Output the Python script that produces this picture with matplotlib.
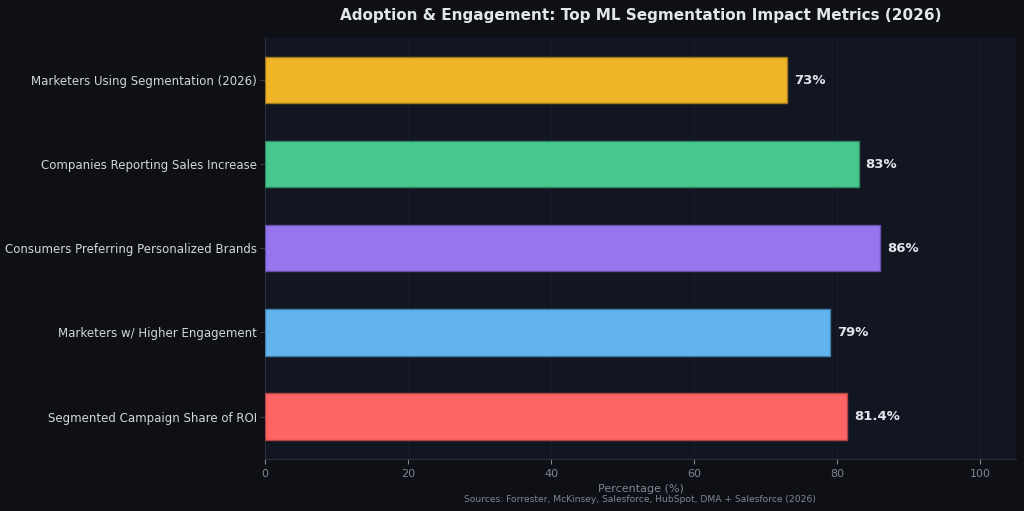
import matplotlib
matplotlib.use("Agg")
import matplotlib.pyplot as plt

categories = [
    "Marketers Using Segmentation (2026)",
    "Companies Reporting Sales Increase",
    "Consumers Preferring Personalized Brands",
    "Marketers w/ Higher Engagement",
    "Segmented Campaign Share of ROI",
]
values = [73, 83, 86, 79, 81.4]
value_labels = ["73%", "83%", "86%", "79%", "81.4%"]
colors = ["#f0b429", "#48c78e", "#9775ee", "#63b3ed", "#ff6464"]
edge_colors = ["#a07a1c", "#2f8a60", "#6a50b0", "#4080b0", "#b04444"]

fig_bg = "#0e1016"
ax_bg = "#111622"

fig = plt.figure(figsize=(10.24, 5.11), dpi=100, facecolor=fig_bg)
ax = fig.add_axes([0.259, 0.102, 0.733, 0.824])
ax.set_facecolor(ax_bg)

y = list(range(len(categories)))
ax.barh(y, values, height=0.55, color=colors, edgecolor=edge_colors, linewidth=1.0, zorder=3)
ax.invert_yaxis()
ax.set_xlim(0, 105)
ax.set_yticks(y)
ax.set_yticklabels(categories, fontsize=8.5, color="#d2d6dd")
ax.set_xticks([0, 20, 40, 60, 80, 100])
ax.tick_params(axis="x", colors="#7f8694", labelsize=8)
ax.tick_params(axis="y", colors="#3a3f4a", labelcolor="#d2d6dd", pad=2.5)
ax.xaxis.grid(True, color="#171d2a", linewidth=0.8, zorder=0)
ax.set_axisbelow(True)
for s in ["top", "right"]:
    ax.spines[s].set_visible(False)
for s in ["left", "bottom"]:
    ax.spines[s].set_color("#2a2f3a")

for yi, v, lab in zip(y, values, value_labels):
    ax.text(v + 1.0, yi, lab, va="center", ha="left", fontsize=9.5,
            fontweight="bold", color="#e2e5ea", zorder=4)

ax.set_xlabel("Percentage (%)", fontsize=8, color="#7f8694", labelpad=4)
ax.set_title("Adoption & Engagement: Top ML Segmentation Impact Metrics (2026)",
             fontsize=11, fontweight="bold", color="#e2e5ea", pad=13)
fig.text(0.625, 0.023, "Sources: Forrester, McKinsey, Salesforce, HubSpot, DMA + Salesforce (2026)",
         ha="center", va="center", fontsize=6.6, color="#7f8694")

fig.savefig("out.png", dpi=100, facecolor=fig_bg)
